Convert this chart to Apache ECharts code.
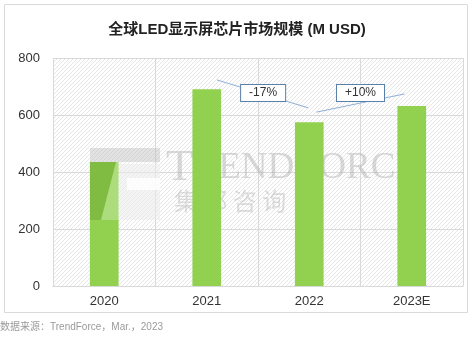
<!DOCTYPE html>
<html><head><meta charset="utf-8">
<script src="https://cdn.jsdelivr.net/npm/echarts@6/dist/echarts.min.js"></script>
<style>html,body{margin:0;padding:0;background:#fff}#c{width:474px;height:340px}</style>
</head><body><div id="c"></div>
<script>
const categories = ['2020', '2021', '2022', '2023E'];
const marketSize = [435, 690, 575, 632];
const yTicks = [0, 200, 400, 600, 800];
const changeLabels = ['-17%', '+10%'];
// arrows: [x index, value] pairs on an overlay value axis
const arrowStart = [[1.10, 723], [2.07, 610]];
const arrowEnd = [[1.99, 625], [2.93, 674]];
const boxAt = [[1.55, 677], [2.50, 677]];

const pc = document.createElement('canvas');
pc.width = 4; pc.height = 4;
const g = pc.getContext('2d');
g.fillStyle = '#ffffff'; g.fillRect(0,0,4,4);
g.strokeStyle = '#e6e6e6'; g.lineWidth = 1;
g.beginPath(); g.moveTo(0,4); g.lineTo(4,0); g.stroke();

const FONT = '"Liberation Sans", Arial, "Noto Sans CJK SC", sans-serif';
const chart = echarts.init(document.getElementById('c'));
chart.setOption({
  animation: false,
  backgroundColor: '#fff',
  title: {
    text: '全球LED显示屏芯片市场规模 (M USD)', left: 'center', top: 17,
    textStyle: { fontFamily: FONT, fontSize: 15, fontWeight: 'bold', color: '#222' }
  },
  grid: { left: 53, right: 11, top: 58, bottom: 54, show: true, borderWidth: 0,
    backgroundColor: { image: pc, repeat: 'repeat' } },
  xAxis: [{
    type: 'category', data: categories,
    axisLine: { show: true, lineStyle: { color: '#d9d9d9' } }, axisTick: { show: false },
    splitLine: { show: true, lineStyle: { color: '#d9d9d9' } },
    axisLabel: { fontFamily: FONT, fontSize: 13, color: '#333', margin: 9 }
  }, {
    type: 'value', min: -0.5, max: 3.5, show: false
  }],
  yAxis: {
    type: 'value', min: yTicks[0], max: yTicks[yTicks.length-1], interval: 200,
    axisLine: { show: false }, axisTick: { show: false },
    splitLine: { lineStyle: { color: '#d9d9d9' } },
    axisLabel: { fontFamily: FONT, fontSize: 13, color: '#333', margin: 13 }
  },
  graphic: [
    { type: 'rect', shape: { x: 4.5, y: 4.5, width: 463, height: 308 }, style: { fill: 'none', stroke: '#d9d9d9', lineWidth: 1 }, z: -1 },
    { type: 'text', left: 0, top: 322, style: { text: '数据来源：TrendForce，Mar.，2023', fontFamily: FONT, fontSize: 10, fill: '#9a9a9a' } },
    // watermark
    { type: 'rect', shape: { x: 90, y: 148, width: 70, height: 14 }, style: { fill: 'rgba(190,190,190,0.45)' }, z: 10 },
    { type: 'polygon', shape: { points: [[90,162],[116,162],[101,220],[90,220]] }, style: { fill: 'rgba(70,120,20,0.22)' }, z: 10 },
    { type: 'polygon', shape: { points: [[116,162],[119,162],[119,220],[101,220]] }, style: { fill: 'rgba(255,255,255,0.25)' }, z: 10 },
    { type: 'rect', shape: { x: 119, y: 164, width: 41, height: 56 }, style: { fill: 'rgba(235,235,235,0.55)' }, z: 1 },
    { type: 'rect', shape: { x: 127, y: 178, width: 33, height: 12 }, style: { fill: 'rgba(255,255,255,0.8)' }, z: 1 },
    { type: 'text', left: 166, top: 146, z: 1, style: {
      text: '{a|T}{b|REND}{a|F}{b|ORCE}', fill: 'rgba(170,170,170,0.45)',
      rich: { a: { fontFamily: '"Liberation Serif", serif', fontSize: 45, fill: 'rgba(170,170,170,0.45)' },
              b: { fontFamily: '"Liberation Serif", serif', fontSize: 37, fill: 'rgba(170,170,170,0.45)' } } } },
    { type: 'text', left: 174, top: 189, z: 1, style: { text: '集 邦 咨 询', fontFamily: '"Noto Sans CJK SC", sans-serif', fontSize: 24, fill: 'rgba(170,170,170,0.4)' } }
  ],
  series: [{
    type: 'bar', data: marketSize, barWidth: '28%', z: 2,
    itemStyle: { color: '#92d050' }
  }, {
    type: 'scatter', xAxisIndex: 1, data: [], symbolSize: 0, z: 3,
    markLine: {
      silent: true, symbol: ['none', 'arrow'], symbolSize: [0, 8],
      lineStyle: { color: '#8eb0d8', width: 1, type: 'solid' },
      label: { show: false },
      data: arrowStart.map((s, i) => [{ coord: s }, { coord: arrowEnd[i] }])
    }
  }, {
    type: 'scatter', xAxisIndex: 1, data: [], symbolSize: 0, z: 5,
    markPoint: {
      silent: true, symbol: 'rect', symbolSize: 0,
      label: { show: true, position: 'inside', fontFamily: FONT, fontSize: 12, color: '#333',
        backgroundColor: '#fff', borderColor: '#5a7fa8', borderWidth: 1, padding: [2, 8, 2, 8] },
      data: boxAt.map((c, i) => ({ coord: c, value: changeLabels[i], label: { formatter: changeLabels[i] } }))
    }
  }]
});
</script></body></html>
